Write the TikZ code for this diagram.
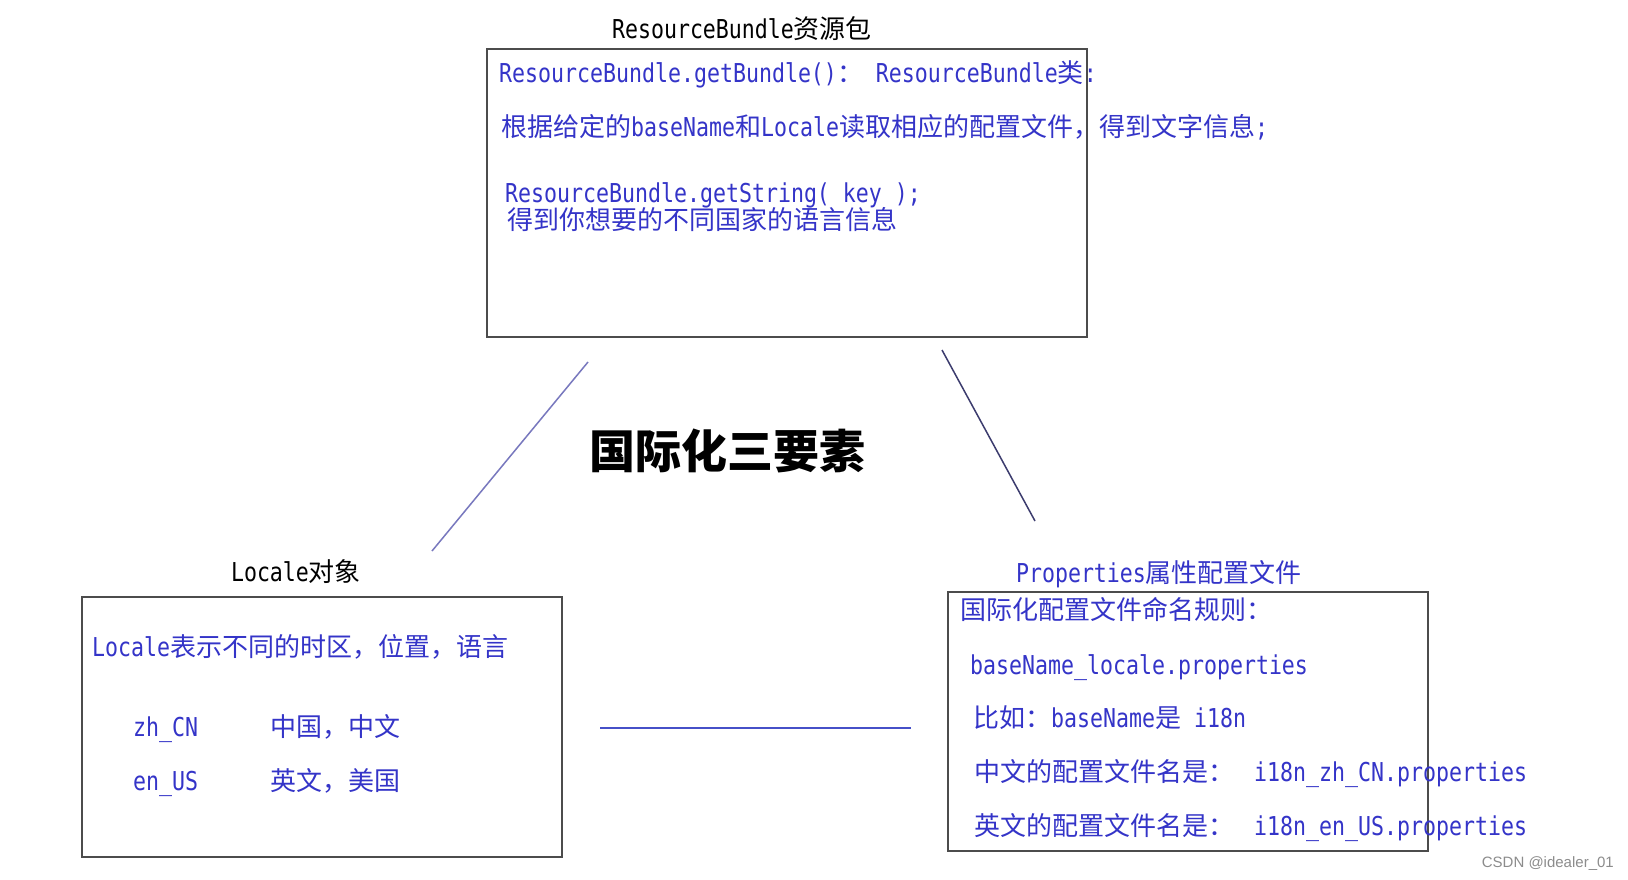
\documentclass[tikz,border=0pt]{standalone}
\usepackage{fontspec}
\setmainfont{Noto Sans CJK SC}
\newfontfamily\enfont{DejaVu Sans Mono}[FakeStretch=0.83]
\newfontfamily\markfont{Liberation Sans}
\newcommand{\en}[1]{{\enfont #1}}
\definecolor{txtblue}{RGB}{52,52,200}
\definecolor{lineleft}{RGB}{120,120,190}
\definecolor{lineright}{RGB}{60,60,110}
\definecolor{linemid}{RGB}{70,80,200}
\begin{document}
\begin{tikzpicture}[x=1pt,y=-1pt,
		box/.style={draw=black!70,line width=2pt,inner sep=0pt},
		txt/.style={anchor=base west,inner sep=0pt,font=\fontsize{26}{30}\selectfont,text=txtblue},
		head/.style={anchor=base,inner sep=0pt,font=\fontsize{26}{30}\selectfont}]
		\useasboundingbox[fill=white] (0,0) rectangle (1628,880);
		%
		\def\rbx{499}
		\def\lox{92}
		\def\prx{960}
		%
		\node[box,minimum width=600pt,minimum height=288pt] (rb) at (787,193) {};
		\node[head] (rbtitle) at (742,39) {\en{ResourceBundle}资源包};
		\node[txt] (rb1) at (\rbx,83) {\en{ResourceBundle.getBundle()}：\en{ ResourceBundle}类\en{:}};
		\node[txt] (rb2) at (\rbx+2,137) {根据给定的\en{baseName}和\en{Locale}读取相应的配置文件，得到文字信息\en{;}};
		\node[txt] (rb3) at (\rbx+6,202) {\en{ResourceBundle.getString( key );}};
		\node[txt] (rb4) at (\rbx+8,229) {得到你想要的不同国家的语言信息};
		%
		\node[box,minimum width=480pt,minimum height=260pt] (lo) at (322,727) {};
		\node[head] (lotitle) at (296,581) {\en{Locale}对象};
		\node[txt] (lo1) at (\lox,656) {\en{Locale}表示不同的时区，位置，语言};
		\node[txt] (lo2) at (\lox+41,736) {\en{zh\_CN}};
		\node[txt] (lo3) at (\lox+178,736) {中国，中文};
		\node[txt] (lo4) at (\lox+41,790) {\en{en\_US}};
		\node[txt] (lo5) at (\lox+178,790) {英文，美国};
		%
		\node[box,minimum width=480pt,minimum height=259pt] (pr) at (1188,721.5) {};
		\node[head,text=txtblue] (prtitle) at (1159,582) {\en{Properties}属性配置文件};
		\node[txt] (pr1) at (\prx,619) {国际化配置文件命名规则：};
		\node[txt] (pr2) at (\prx+10,674) {\en{baseName\_locale.properties}};
		\node[txt] (pr3) at (\prx+13,727) {比如：\en{baseName}是\en{ i18n}};
		\node[txt] (pr4) at (\prx+14,781) {中文的配置文件名是：\hspace{20pt}\en{i18n\_zh\_CN.properties}};
		\node[txt] (pr5) at (\prx+14,835) {英文的配置文件名是：\hspace{20pt}\en{i18n\_en\_US.properties}};
		%
		\node[font=\fontsize{46}{50}\selectfont\bfseries] (core) at (727,451) {国际化三要素};
		%
		\coordinate (rbl) at (588,362);
		\coordinate (lot) at (432,551);
		\coordinate (rbr) at (942,350);
		\coordinate (prt) at (1035,521);
		\coordinate (lor) at (600,728);
		\coordinate (prl) at (911,728);
		\draw[lineleft,line width=1.5pt] (rbl) -- (lot);
		\draw[lineright,line width=1.5pt] (rbr) -- (prt);
		\draw[linemid,line width=2pt] (lor) -- (prl);
		%
		\node[anchor=east,inner sep=0pt,text=black!45,font=\markfont\fontsize{15}{18}\selectfont] (mark) at (1614,864) {CSDN @idealer\_01};
	\end{tikzpicture}
\end{document}
